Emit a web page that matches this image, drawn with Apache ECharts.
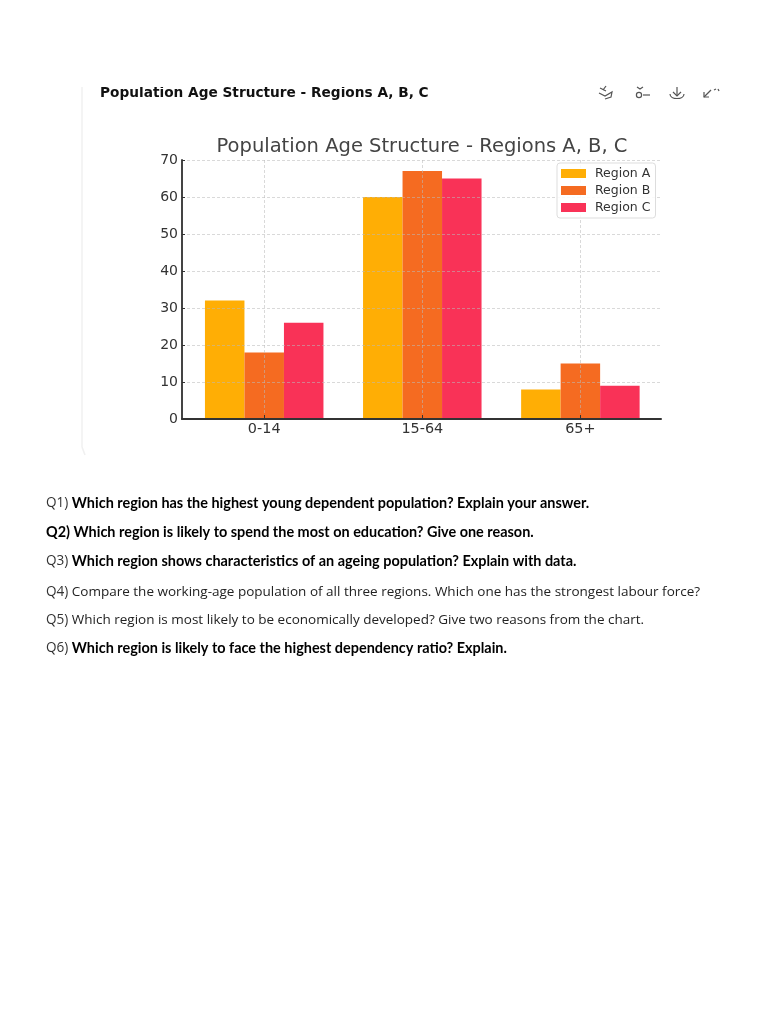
<!DOCTYPE html>
<html><head><meta charset="utf-8">
<style>html,body{margin:0;padding:0;background:#fff}#c{width:768px;height:470px;filter:blur(0.45px)}#q{width:768px;height:554px}</style>
<script src="https://cdn.jsdelivr.net/npm/echarts@6/dist/echarts.min.js"></script>
</head><body><div id="c"></div><div id="q"></div>
<script>
const categories = ['0-14', '15-64', '65+'];
const categoryIndex = [0, 1, 2];
const regionA = [32, 60, 8];
const regionB = [18, 67, 15];
const regionC = [26, 65, 9];
const chartTitle = 'Population Age Structure - Regions A, B, C';
const questions = [
  ['Q1) ', 'Which region has the highest young dependent population? Explain your answer.', 'b', 503],
  ['Q2) Which region is likely to spend the most on education? Give one reason.', '', 'allb', 532],
  ['Q3) ', 'Which region shows characteristics of an ageing population? Explain with data.', 'b', 561],
  ['Q4) ', 'Compare the working-age population of all three regions. Which one has the strongest labour force?', 'r', 592],
  ['Q5) ', 'Which region is most likely to be economically developed? Give two reasons from the chart.', 'r', 620],
  ['Q6) ', 'Which region is likely to face the highest dependency ratio? Explain.', 'b', 648]
];
const chart = echarts.init(document.getElementById('c'), null, {renderer: 'canvas'});
const textChart = echarts.init(document.getElementById('q'), null, {renderer: 'canvas'});
const sf = {fontFamily: 'DejaVu Sans', color: '#333'};
const mk = (name, data, color) => ({
  name, type: 'bar', barWidth: 39.5, barGap: 0,
  data: data.map((v, i) => [categoryIndex[i], v]),
  itemStyle: {color}, z: 2
});
const qg = questions.map(q => {
  const isAll = q[2] === 'allb';
  return {type: 'text', x: 46, y: q[3] - 470 - 7, z: 10, style: {
    text: isAll ? '{b|' + q[0] + '}' : '{q|' + q[0] + '}{' + q[2] + '|' + q[1] + '}',
    rich: {
      q: {fontFamily: 'Open Sans', fontSize: 13.55, fill: '#333'},
      r: {fontFamily: 'Open Sans', fontSize: 13.5, fill: '#222'},
      b: {fontFamily: 'Lato', fontWeight: 'bold', fontSize: 14.45, fill: '#000'}
    }
  }};
});
textChart.setOption({animation: false, backgroundColor: '#fff', graphic: qg});
const g = [];
g.push({type: 'text', x: 100, y: 86, z: 10, style: {text: chartTitle, fontFamily: 'DejaVu Sans', fontWeight: 'bold', fontSize: 13.7, fill: '#111'}});
g.push({type: 'rect', shape: {x: 90, y: 70, width: 360, height: 17}, z: 11, style: {fill: '#fff'}});
const frame = {stroke: '#f0f0f0', lineWidth: 1.5, fill: 'none'};
g.push({type: 'line', shape: {x1: 82, y1: 87, x2: 82, y2: 447}, z: 1, style: frame});
g.push({type: 'line', shape: {x1: 82, y1: 447, x2: 85, y2: 455}, z: 1, style: frame});
const iconStyle = {stroke: '#555', lineWidth: 1.2, fill: 'none'};
const poly = pts => g.push({type: 'polyline', z: 5, shape: {points: pts}, style: iconStyle});
poly([[600,88],[606,91]]);
poly([[599,93],[605,96],[612,92],[611,97],[605,99]]);
poly([[606,86],[603,90]]);
g.push({type: 'circle', z: 5, shape: {cx: 639, cy: 95, r: 2.6}, style: iconStyle});
poly([[643,95],[650,95]]);
poly([[637,87],[640,89],[643,87]]);
poly([[677,87],[677,95]]);
poly([[673,92],[677,96],[681,92]]);
g.push({type: 'bezierCurve', z: 5, shape: {x1: 670, y1: 94, cpx1: 670, cpy1: 100, cpx2: 684, cpy2: 100, x2: 684, y2: 94}, style: iconStyle});
poly([[711,90],[704,97]]);
poly([[704,92],[704,97],[709,97]]);
poly([[714,90],[716,89]]);
poly([[718,89],[719,91]]);
const gridLine = {show: true, lineStyle: {color: 'rgba(185,185,185,0.55)', type: [3, 2], width: 1}};
chart.setOption({
  animation: false,
  backgroundColor: '#fff',
  title: {text: chartTitle, left: 417, top: 132, textAlign: 'center',
    textStyle: {fontFamily: 'DejaVu Sans', fontWeight: 'normal', fontSize: 19.5, color: '#444'}},
  grid: {left: 182, top: 160, width: 479, height: 259},
  legend: {
    orient: 'vertical', left: 557, top: 163, padding: [4, 5, 4, 4], itemGap: 4,
    itemWidth: 25, itemHeight: 9, icon: 'rect', backgroundColor: 'rgba(255,255,255,0.85)',
    borderColor: '#ddd', borderWidth: 1, borderRadius: 3,
    textStyle: {...sf, fontSize: 12.5, padding: [0, 0, 0, 4], lineHeight: 12},
    data: ['Region A', 'Region B', 'Region C']
  },
  xAxis: {
    type: 'value', min: -0.52, max: 2.51, z: 3,
    axisLine: {show: true, lineStyle: {color: '#333', width: 2}},
    axisTick: {show: true, inside: true, length: 4, lineStyle: {color: '#333'}, customValues: categoryIndex},
    axisLabel: {customValues: categoryIndex, formatter: v => categories[v], fontSize: 14.4, margin: 3, ...sf},
    splitLine: gridLine
  },
  yAxis: {
    type: 'value', min: 0, max: 70, interval: 10, z: 3,
    axisLine: {show: true, onZero: false, lineStyle: {color: '#444', width: 2}},
    axisTick: {show: true, inside: true, length: 3, lineStyle: {color: '#333'}},
    axisLabel: {fontSize: 14, margin: 4, ...sf},
    splitLine: gridLine
  },
  series: [mk('Region A', regionA, '#FFAE05'), mk('Region B', regionB, '#F56B21'), mk('Region C', regionC, '#F93257')],
  graphic: g
});
</script></body></html>
